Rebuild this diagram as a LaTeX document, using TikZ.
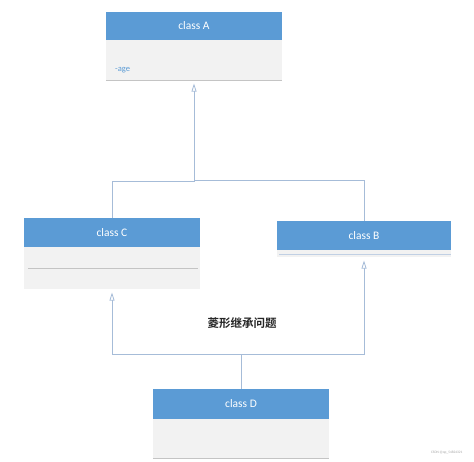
\documentclass[tikz,border=0pt]{standalone}
\usepackage{fontspec}
\setmainfont{Carlito}
\newfontfamily\cjkb{Noto Sans CJK SC Bold}
\usetikzlibrary{arrows.meta}
\definecolor{hdr}{HTML}{5B9BD5}
\definecolor{bdy}{HTML}{F2F2F2}
\definecolor{cn}{HTML}{A6BCD8}
\definecolor{sep}{HTML}{C4C4C4}
\begin{document}
\begin{tikzpicture}[x=1pt,y=-1pt,
  header/.style={fill=hdr,draw=none,text=white,inner sep=0pt,font=\fontsize{11.5}{13}\selectfont},
  body/.style={fill=bdy,draw=none,inner sep=0pt,anchor=north},
  sepline/.style={draw=sep,line width=0.8pt},
  conn/.style={draw=cn,line width=0.8pt},
  inh/.style={conn,-{Triangle[open,width=5pt,length=8pt,fill=white]},shorten >=3pt}
]
\useasboundingbox[fill=white] (0,0) rectangle (474,461);

% class A
\node[header,minimum width=176pt,minimum height=28pt] (Ah) at (194,26) {class A};
\node[body,minimum width=176pt,minimum height=40pt] (Ab) at (Ah.south) {};
\draw[sepline] (Ab.south west) -- (Ab.south east);
\node[anchor=west,text=hdr,inner sep=0pt,font=\fontsize{8.5}{10}\selectfont] (age) at (115,70) {-age};

% class C
\node[header,minimum width=176pt,minimum height=29pt] (Ch) at (112,232.5) {class C};
\node[body,minimum width=176pt,minimum height=42pt] (Cb) at (Ch.south) {};
\coordinate (cs1) at (28,268);
\coordinate (cs2) at (198,268);
\draw[sepline] (cs1) -- (cs2);

% class B
\node[header,minimum width=174pt,minimum height=29pt] (Bh) at (364,235.5) {class B};
\node[body,minimum width=174pt,minimum height=7pt,fill=bdy] (Bb) at (Bh.south) {};
\coordinate (bs1) at (279,254);
\coordinate (bs2) at (451,254);
\draw[draw=cn!70,line width=0.6pt] (bs1) -- (bs2);

% class D
\node[header,minimum width=176pt,minimum height=30pt] (Dh) at (241,404) {class D};
\node[body,minimum width=176pt,minimum height=39pt] (Db) at (Dh.south) {};
\draw[sepline] (Db.south west) -- (Db.south east);

% connectors to A
\coordinate (jA) at (194,180);
\draw[inh] (Ch.north) -- ++(0,-36) -| (Ab.south);
\draw[conn] (Bh.north) |- (jA);

% connectors from D
\draw[inh] (Dh.north) -- ++(0,-34) -| (Cb.south);
\draw[inh] (Dh.north) -- ++(0,-34) -| (Bb.south);

% title
\node[font=\cjkb\fontsize{11.5}{14}\selectfont,text=black!85] (title) at (242,323) {菱形继承问题};

% watermark
\node[font=\fontsize{3.5}{4}\selectfont,text=black!35,anchor=east] (wm) at (466,453) {CSDN @qq\_54824321};
\end{tikzpicture}
\end{document}
